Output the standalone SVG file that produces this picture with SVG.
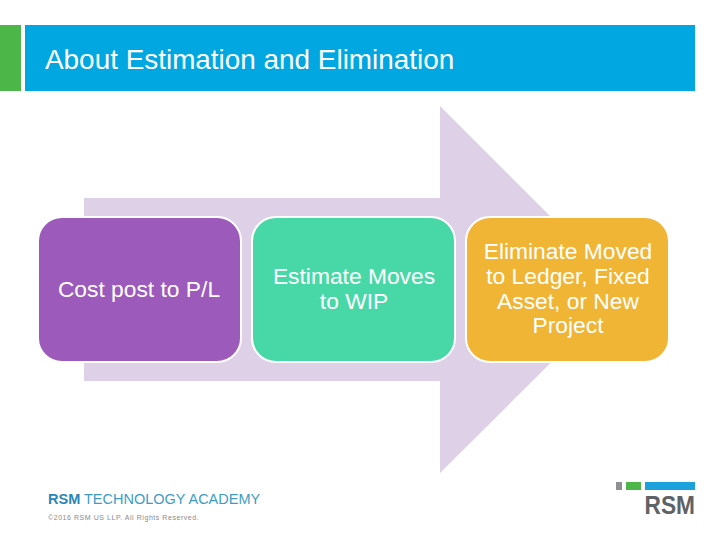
<svg xmlns="http://www.w3.org/2000/svg" width="720" height="540" viewBox="0 0 720 540">
<style>
text{font-family:"Liberation Sans",Arial,sans-serif}
.t{font-size:22.8px;fill:#fff;text-anchor:middle}
.b{stroke:#fff;stroke-width:2}
</style>
<rect width="720" height="540" fill="#fff"/>
<g id="header">
<rect x="0" y="25" width="21" height="66" fill="#4CB648"/>
<rect x="25" y="25" width="670" height="66" fill="#00A7E1"/>
<text x="45" y="69" font-size="27.900" fill="#fff">About Estimation and Elimination</text>
</g>
<g id="arrow"><path d="M84 198H440V106L624 290L440 473V381H84Z" fill="#DED1E7"/></g>
<g id="node1">
<rect class="b" x="38" y="217" width="203" height="145" rx="24" fill="#9C5ABA"/>
<text class="t" x="139" y="297">Cost post to P/L</text>
</g>
<g id="node2">
<rect class="b" x="252" y="217" width="203" height="145" rx="24" fill="#48D8A8"/>
<text class="t" x="354" y="284">Estimate Moves</text>
<text class="t" x="354" y="309">to WIP</text>
</g>
<g id="node3">
<rect class="b" x="466" y="217" width="203" height="145" rx="24" fill="#F0B535"/>
<text class="t" x="568" y="259">Eliminate Moved</text>
<text class="t" x="568" y="284">to Ledger, Fixed</text>
<text class="t" x="568" y="309">Asset, or New</text>
<text class="t" x="568" y="333">Project</text>
</g>
<g id="footer">
<text x="48" y="504" font-size="14.500"><tspan font-weight="bold" fill="#2A86B8">RSM</tspan><tspan fill="#3E9CC4"> TECHNOLOGY ACADEMY</tspan></text>
<text x="48" y="520" font-size="7" letter-spacing="0.550" fill="#8a8a8a">©2016 RSM US LLP. All Rights Reserved.</text>
</g>
<g id="logo">
<rect x="616" y="482" width="6" height="8" fill="#8E9093"/>
<rect x="626" y="482" width="15" height="8" fill="#4CB648"/>
<rect x="645" y="482" width="50" height="8" fill="#1DA1DC"/>
<text x="644.500" y="514" font-size="26" font-weight="bold" fill="#5f6366" textLength="50.500" lengthAdjust="spacingAndGlyphs">RSM</text>
</g>
</svg>
